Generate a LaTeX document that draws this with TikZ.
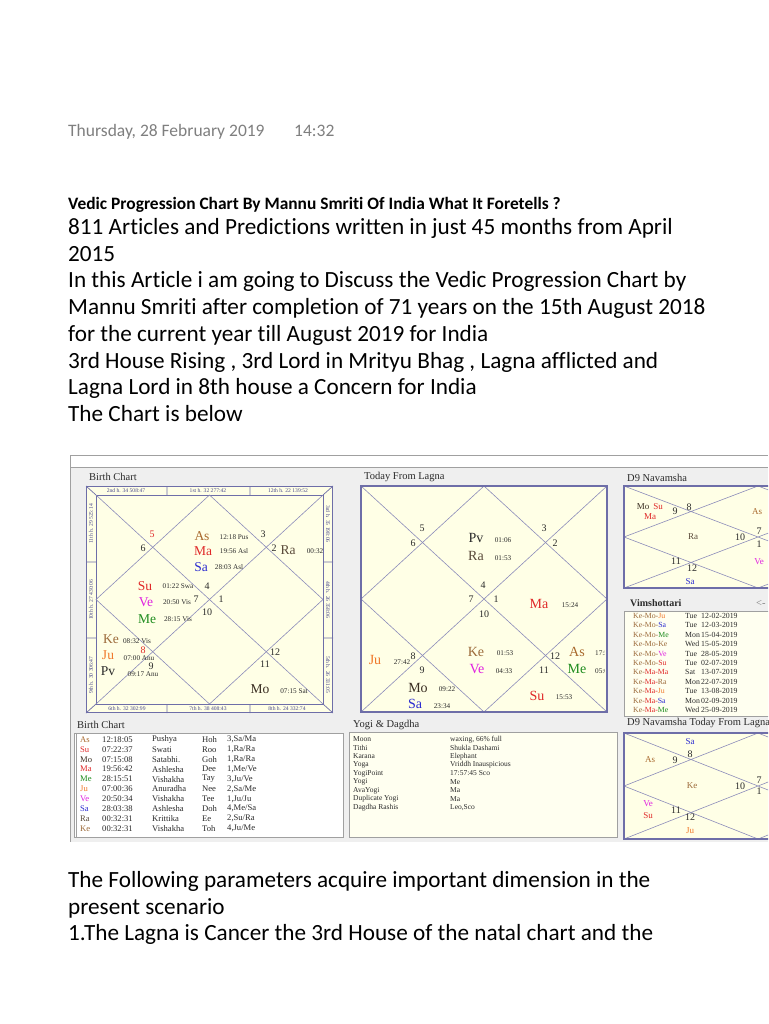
\documentclass[tikz,border=0pt]{standalone}
\usepackage{fontspec}
\setmainfont{Liberation Serif}
\newfontfamily\calib[RawFeature={-liga}]{Carlito}
\definecolor{panelbg}{HTML}{EFEFEF}
\definecolor{framegray}{HTML}{A0A0A0}
\definecolor{chartfill}{HTML}{FFFFE6}
\definecolor{creambox}{HTML}{FFFFF0}
\definecolor{chartborder}{HTML}{6E6EA8}
\definecolor{bandtext}{HTML}{4A4A8C}
\definecolor{chartline}{HTML}{8C8CBA}
\definecolor{pAs}{HTML}{A8682C}
\definecolor{pRed}{HTML}{E02828}
\definecolor{pSa}{HTML}{2A2AD0}
\definecolor{pVe}{HTML}{E020E0}
\definecolor{pMe}{HTML}{1E8C1E}
\definecolor{pKe}{HTML}{9C6A3A}
\definecolor{pJu}{HTML}{F0782A}
\definecolor{pDark}{HTML}{2A2A2A}
\definecolor{pMo}{HTML}{3A2E22}
\definecolor{pRa}{HTML}{5A4A3A}
\definecolor{datecol}{HTML}{7F7F7F}
\newcount\nodeidx
\newcommand\T[3][]{\global\advance\nodeidx by 1\relax
  \edef\tmpcmd{\noexpand\node[\unexpanded{#1}] (t\the\nodeidx) at (\unexpanded{#2})}\tmpcmd{#3};}
\begin{document}
\begin{tikzpicture}[x=1pt,y=-1pt,
  bodytxt/.style={anchor=base west, inner sep=0, font=\calib\fontsize{23.2}{26.7}\selectfont},
  pl/.style={inner sep=0, font=\fontsize{13.5}{14}\selectfont},
  pltwo/.style={inner sep=0, font=\fontsize{14}{14}\selectfont},
  tm/.style={inner sep=0, font=\fontsize{7.2}{7.5}\selectfont, text=pDark},
  hn/.style={inner sep=0, font=\fontsize{10}{10}\selectfont, text=pDark},
  dn/.style={inner sep=0, font=\fontsize{9}{9}\selectfont},
  band/.style={inner sep=0, font=\fontsize{5.6}{6}\selectfont, text=bandtext},
  lab/.style={anchor=west, inner sep=0, font=\fontsize{10.5}{11}\selectfont, text=pDark},
  vim/.style={anchor=west, inner sep=0, font=\fontsize{7.8}{8}\selectfont, text=pDark},
  btab/.style={anchor=west, inner sep=0, font=\fontsize{8.6}{9}\selectfont, text=pDark},
  ytab/.style={anchor=west, inner sep=0, font=\fontsize{7.5}{8}\selectfont, text=pDark},
  cline/.style={chartline, line width=0.6},
  cbord/.style={chartborder, line width=2.5}]
\useasboundingbox (0,0) rectangle (768,1024);
\fill[white] (0,0) rectangle (768,1024);

% ---------- header text ----------
\T[anchor=base west, inner sep=0, font=\calib\fontsize{17.5}{18}\selectfont, text=datecol]{68,137}{Thursday, 28 February 2019}
\T[anchor=base west, inner sep=0, font=\calib\fontsize{17.5}{18}\selectfont, text=datecol]{294,137}{14:32}
\T[anchor=base west, inner sep=0, font=\calib\bfseries\fontsize{17.4}{18}\selectfont]{68,209.5}{Vedic Progression Chart By Mannu Smriti Of India What It Foretells ?}
\T[bodytxt]{68,234.5}{811 Articles and Predictions written in just 45 months from April}
\T[bodytxt]{68,261.2}{2015}
\T[bodytxt]{68,287.9}{In this Article i am going to Discuss the Vedic Progression Chart by}
\T[bodytxt]{68,314.6}{Mannu Smriti after completion of 71 years on the 15th August 2018}
\T[bodytxt]{68,341.3}{for the current year till August 2019 for India}
\T[bodytxt]{68,368.0}{3rd House Rising , 3rd Lord in Mrityu Bhag , Lagna afflicted and}
\T[bodytxt]{68,394.7}{Lagna Lord in 8th house a Concern for India}
\T[bodytxt]{68,421.4}{The Chart is below}

% ---------- screenshot ----------
\begin{scope}
\clip (70,455) rectangle (768,842);
\fill[panelbg] (70,455) rectangle (768,842);
\fill[white] (70,455) rectangle (768,467);
\draw[framegray, line width=1] (70,455.5) -- (768,455.5) (70,467) -- (768,467) (70.5,455) -- (70.5,842);

% labels
\T[lab]{89,477}{Birth Chart}
\T[lab]{364,477}{Today From Lagna}
\T[lab]{627,478}{D9 Navamsha}
\T[lab, font=\bfseries\fontsize{10}{11}\selectfont]{630,603}{Vimshottari}
\T[lab, text=datecol]{756,603}{<-}
\T[lab]{77,725}{Birth Chart}
\T[lab]{353,725}{Yogi \& Dagdha}
\T[lab]{627,723}{D9 Navamsha Today From Lagna}

% ===== Birth chart =====
\fill[chartfill] (86,486) rectangle (333,713);
\draw[chartborder, line width=1.3] (86.6,486.6) rectangle (332.4,712.4);
\draw[chartborder, line width=1] (96,495) rectangle (323,704);
\draw[chartborder, line width=0.7] (86,486)--(96,495) (333,486)--(323,495) (86,713)--(96,704) (333,713)--(323,704)
  (167,486)--(167,495) (250,486)--(250,495) (167,704)--(167,713) (250,704)--(250,713)
  (86,562)--(96,562) (86,638)--(96,638) (323,562)--(333,562) (323,638)--(333,638);
\draw[cline] (96,495)--(323,704) (96,704)--(323,495) (209.5,495)--(323,599.5)--(209.5,704)--(96,599.5)--cycle;
\T[band]{126,491}{2nd h. 34 508:47}
\T[band]{208,491}{1st h. 32 277:42}
\T[band]{288,491}{12th h. 22 139:52}
\T[band]{127,708.5}{6th h. 32 302:99}
\T[band]{208,708.5}{7th h. 38 408:43}
\T[band]{287,708.5}{8th h. 24 332:74}
\T[band,rotate=90]{91,524}{11th h. 29 525:14}
\T[band,rotate=90]{91,600}{10th h. 27 430:06}
\T[band,rotate=90]{91,675}{9th h. 30 306:47}
\T[band,rotate=-90]{328,524}{3rd h. 35 198:06}
\T[band,rotate=-90]{328,600}{4th h. 26 358:06}
\T[band,rotate=-90]{328,675}{5th h. 26 331:05}
\T[hn,text=pRed]{152,534}{5}
\T[hn]{143,548}{6}
\T[pl,text=pAs]{202,536}{As}
\T[tm]{234,537}{12:18 Pus}
\T[hn]{263,534}{3}
\T[hn]{274,548}{2}
\T[pl,text=pRa]{288,550}{Ra}
\T[tm]{315,551}{00:32}
\T[pl,text=pRed]{203,551}{Ma}
\T[tm]{234,551}{19:56 Asl}
\T[pl,text=pSa]{201,567}{Sa}
\T[tm]{229,567}{28:03 Asl}
\T[pl,text=pRed]{145,586}{Su}
\T[tm]{178,586}{01:22 Swa}
\T[hn]{207,586}{4}
\T[pl,text=pVe]{146,602}{Ve}
\T[tm]{177,602}{20:50 Vis}
\T[hn]{196,599}{7}
\T[hn]{221,599}{1}
\T[hn]{207,612}{10}
\T[pl,text=pMe]{147,619}{Me}
\T[tm]{178,619}{28:15 Vis}
\T[pl,text=pKe]{111,639}{Ke}
\T[tm]{137,641}{08:32 Vis}
\T[hn,text=pRed]{143,650}{8}
\T[pl,text=pJu]{108,655}{Ju}
\T[tm]{139,658}{07:00 Anu}
\T[hn]{151,666}{9}
\T[pl,text=pDark]{108,671}{Pv}
\T[tm]{143,674}{09:17 Anu}
\T[hn]{275,652}{12}
\T[hn]{265,664}{11}
\T[pl,text=pMo]{260,689}{Mo}
\T[tm]{294,691}{07:15 Sat}

% ===== Today From Lagna =====
\fill[chartfill] (361,486) rectangle (607,712);
\draw[cline] (361,486)--(607,712) (361,712)--(607,486) (484,486)--(607,599)--(484,712)--(361,599)--cycle;
\T[hn]{422,528}{5}
\T[hn]{413,543}{6}
\T[hn]{544,528}{3}
\T[hn]{555,543}{2}
\T[hn]{483,585}{4}
\T[hn]{471,599}{7}
\T[hn]{496,599}{1}
\T[hn]{484,614}{10}
\T[hn]{413,656}{8}
\T[hn]{422,670}{9}
\T[hn]{555,656}{12}
\T[hn]{544,670}{11}
\T[pltwo,text=pDark]{476,538}{Pv}
\T[tm]{503,540}{01:06}
\T[pltwo,text=pRa]{476,556}{Ra}
\T[tm]{503,558}{01:53}
\T[pltwo,text=pRed]{539,604}{Ma}
\T[tm]{570,605}{15:24}
\T[pltwo,text=pJu]{375,660}{Ju}
\T[tm]{402,662}{27:42}
\T[pltwo,text=pKe]{476,652}{Ke}
\T[tm]{505,653}{01:53}
\T[pltwo,text=pVe]{477,669}{Ve}
\T[tm]{504,671}{04:33}
\T[pltwo,text=pAs]{577,652}{As}
\T[pltwo,text=pMe]{577,669}{Me}
\begin{scope}
\clip (361,486) rectangle (604.5,712);
\T[tm,anchor=west]{595,653}{17:52}
\T[tm,anchor=west]{595,671}{05:09}
\end{scope}
\T[pltwo,text=pMo]{418,688}{Mo}
\T[tm]{447,689}{09:22}
\T[pltwo,text=pSa]{415,704}{Sa}
\T[tm]{442,706}{23:34}
\T[pltwo,text=pRed]{537,696}{Su}
\T[tm]{564,697}{15:53}
\draw[cbord] (361,486) rectangle (607,712);

% ===== D9 Navamsha =====
\fill[chartfill] (624,486) rectangle (892,588);
\draw[cline] (624,486)--(892,588) (624,588)--(892,486) (758,486)--(892,537)--(758,588)--(624,537)--cycle;
\draw[cbord] (624,486) rectangle (892,588);
\T[dn,text=pMo]{643,507}{Mo}
\T[dn,text=pRed]{658,507}{Su}
\T[dn,text=pRed]{650,517}{Ma}
\T[hn]{675,511}{9}
\T[hn]{689,507}{8}
\T[dn,text=pAs]{757,512}{As}
\T[dn,text=pRa]{693,537}{Ra}
\T[hn]{740,537}{10}
\T[hn]{759,531}{7}
\T[hn]{759,544}{1}
\T[hn]{676,561}{11}
\T[hn]{692,568}{12}
\T[dn,text=pSa]{690,582}{Sa}
\T[dn,text=pVe]{759,562}{Ve}

% ===== Vimshottari =====
\fill[creambox] (624,611) rectangle (780,716);
\draw[framegray, line width=0.8] (624,611) rectangle (780,716);
\T[vim]{633,616}{\textcolor{pKe}{Ke-Mo-}\textcolor{pJu}{Ju}}
\T[vim]{633,625.4}{\textcolor{pKe}{Ke-Mo-}\textcolor{pSa}{Sa}}
\T[vim]{633,634.8}{\textcolor{pKe}{Ke-Mo-}\textcolor{pMe}{Me}}
\T[vim]{633,644.2}{\textcolor{pKe}{Ke-Mo-Ke}}
\T[vim]{633,653.6}{\textcolor{pKe}{Ke-Mo-}\textcolor{pVe}{Ve}}
\T[vim]{633,663}{\textcolor{pKe}{Ke-Mo-}\textcolor{pRed}{Su}}
\T[vim]{633,672.4}{\textcolor{pKe}{Ke-}\textcolor{pRed}{Ma-Ma}}
\T[vim]{633,681.8}{\textcolor{pKe}{Ke-}\textcolor{pRed}{Ma-}\textcolor{pKe}{Ra}}
\T[vim]{633,691.2}{\textcolor{pKe}{Ke-}\textcolor{pRed}{Ma-}\textcolor{pJu}{Ju}}
\T[vim]{633,700.6}{\textcolor{pKe}{Ke-}\textcolor{pRed}{Ma-}\textcolor{pSa}{Sa}}
\T[vim]{633,710}{\textcolor{pKe}{Ke-}\textcolor{pRed}{Ma-}\textcolor{pMe}{Me}}
\T[vim]{685,616}{Tue}
\T[vim]{685,625.4}{Tue}
\T[vim]{685,634.8}{Mon}
\T[vim]{685,644.2}{Wed}
\T[vim]{685,653.6}{Tue}
\T[vim]{685,663}{Tue}
\T[vim]{685,672.4}{Sat}
\T[vim]{685,681.8}{Mon}
\T[vim]{685,691.2}{Tue}
\T[vim]{685,700.6}{Mon}
\T[vim]{685,710}{Wed}
\T[vim]{701,616}{12-02-2019}
\T[vim]{701,625.4}{12-03-2019}
\T[vim]{701,634.8}{15-04-2019}
\T[vim]{701,644.2}{15-05-2019}
\T[vim]{701,653.6}{28-05-2019}
\T[vim]{701,663}{02-07-2019}
\T[vim]{701,672.4}{13-07-2019}
\T[vim]{701,681.8}{22-07-2019}
\T[vim]{701,691.2}{13-08-2019}
\T[vim]{701,700.6}{02-09-2019}
\T[vim]{701,710}{25-09-2019}

% ===== Birth Chart table =====
\fill[white] (74,733) rectangle (343,837);
\draw[framegray, line width=0.8] (74,733) rectangle (343,837) (76.5,733) -- (76.5,837);
\T[btab,text=pAs]{80,739.5}{As}
\T[btab,text=pRed]{80,749.4}{Su}
\T[btab,text=pMo]{80,759.3}{Mo}
\T[btab,text=pRed]{80,769.2}{Ma}
\T[btab,text=pMe]{80,779.1}{Me}
\T[btab,text=pJu]{80,789}{Ju}
\T[btab,text=pVe]{80,798.9}{Ve}
\T[btab,text=pSa]{80,808.8}{Sa}
\T[btab,text=pRa]{80,818.7}{Ra}
\T[btab,text=pKe]{80,828.6}{Ke}
\T[btab]{102,739.5}{12:18:05}
\T[btab]{102,749.4}{07:22:37}
\T[btab]{102,759.3}{07:15:08}
\T[btab]{102,769.2}{19:56:42}
\T[btab]{102,779.1}{28:15:51}
\T[btab]{102,789}{07:00:36}
\T[btab]{102,798.9}{20:50:34}
\T[btab]{102,808.8}{28:03:38}
\T[btab]{102,818.7}{00:32:31}
\T[btab]{102,828.6}{00:32:31}
\T[btab]{152,739.5}{Pushya}
\T[btab]{152,749.4}{Swati}
\T[btab]{152,759.3}{Satabhi.}
\T[btab]{152,769.2}{Ashlesha}
\T[btab]{152,779.1}{Vishakha}
\T[btab]{152,789}{Anuradha}
\T[btab]{152,798.9}{Vishakha}
\T[btab]{152,808.8}{Ashlesha}
\T[btab]{152,818.7}{Krittika}
\T[btab]{152,828.6}{Vishakha}
\T[btab]{202,739.5}{Hoh}
\T[btab]{202,749.4}{Roo}
\T[btab]{202,759.3}{Goh}
\T[btab]{202,769.2}{Dee}
\T[btab]{202,779.1}{Tay}
\T[btab]{202,789}{Nee}
\T[btab]{202,798.9}{Tee}
\T[btab]{202,808.8}{Doh}
\T[btab]{202,818.7}{Ee}
\T[btab]{202,828.6}{Toh}
\T[btab]{227,739.5}{3,Sa/Ma}
\T[btab]{227,749.4}{1,Ra/Ra}
\T[btab]{227,759.3}{1,Ra/Ra}
\T[btab]{227,769.2}{1,Me/Ve}
\T[btab]{227,779.1}{3,Ju/Ve}
\T[btab]{227,789}{2,Sa/Me}
\T[btab]{227,798.9}{1,Ju/Ju}
\T[btab]{227,808.8}{4,Me/Sa}
\T[btab]{227,818.7}{2,Su/Ra}
\T[btab]{227,828.6}{4,Ju/Me}

% ===== Yogi & Dagdha =====
\fill[creambox] (349,732) rectangle (617,837);
\draw[framegray, line width=0.8] (349,732) rectangle (617,837);
\T[ytab]{353,739.5}{Moon}
\T[ytab]{353,748}{Tithi}
\T[ytab]{353,756.5}{Karana}
\T[ytab]{353,765}{Yoga}
\T[ytab]{353,773.5}{YogiPoint}
\T[ytab]{353,782}{Yogi}
\T[ytab]{353,790.5}{AvaYogi}
\T[ytab]{353,799}{Duplicate Yogi}
\T[ytab]{353,807.5}{Dagdha Rashis}
\T[ytab]{450,739.5}{waxing, 66\% full}
\T[ytab]{450,748}{Shukla Dashami}
\T[ytab]{450,756.5}{Elephant}
\T[ytab]{450,765}{Vriddh Inauspicious}
\T[ytab]{450,773.5}{17:57:45 Sco}
\T[ytab]{450,782}{Me}
\T[ytab]{450,790.5}{Ma}
\T[ytab]{450,799}{Ma}
\T[ytab]{450,807.5}{Leo,Sco}

% ===== D9 Navamsha Today From Lagna =====
\fill[chartfill] (624,733) rectangle (892,839);
\draw[cline] (624,733)--(892,839) (624,839)--(892,733) (758,733)--(892,786)--(758,839)--(624,786)--cycle;
\draw[cbord] (624,733) rectangle (892,839);
\T[dn,text=pSa]{690,742}{Sa}
\T[dn,text=pAs]{650,760}{As}
\T[hn]{675,760}{9}
\T[hn]{690,754}{8}
\T[dn,text=pKe]{692,786}{Ke}
\T[hn]{740,786}{10}
\T[hn]{759,780}{7}
\T[hn]{759,791}{1}
\T[dn,text=pVe]{648,804}{Ve}
\T[dn,text=pRed]{648,816}{Su}
\T[hn]{676,810}{11}
\T[hn]{690,817}{12}
\T[dn,text=pJu]{690,831}{Ju}
\end{scope}

% ---------- text below ----------
\T[bodytxt]{68,887.5}{The Following parameters acquire important dimension in the}
\T[bodytxt]{68,914}{present scenario}
\T[bodytxt]{68,940.5}{1.The Lagna is Cancer the 3rd House of the natal chart and the}
\end{tikzpicture}
\end{document}
